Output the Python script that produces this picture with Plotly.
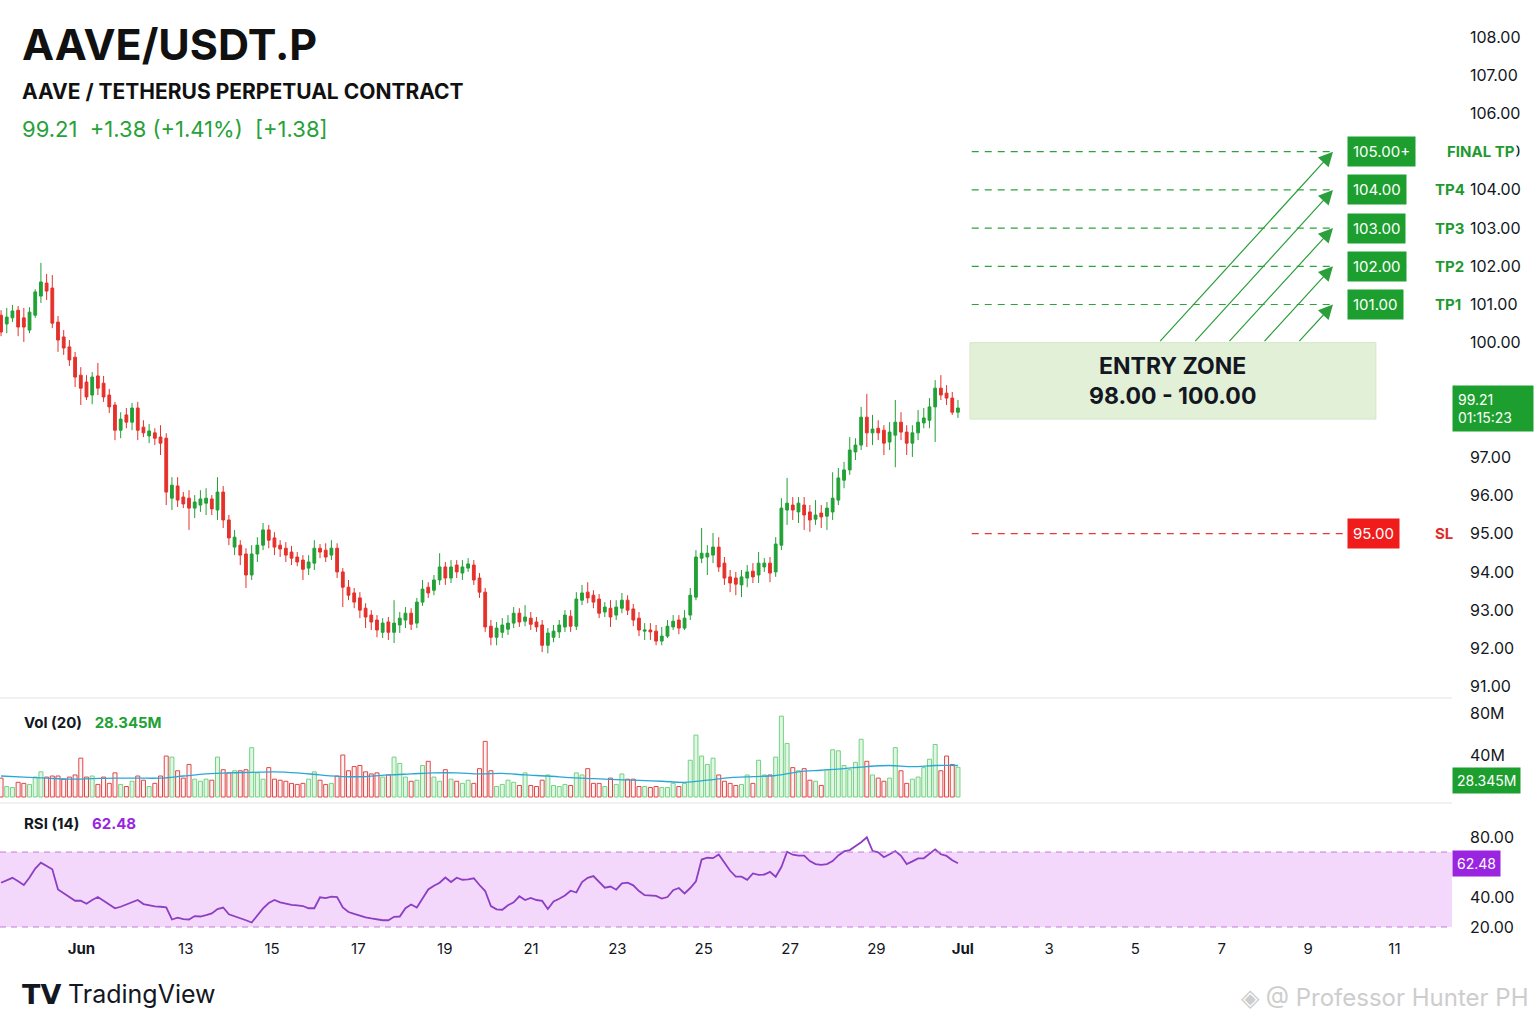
import pandas as pd
import plotly.graph_objects as go
from plotly.subplots import make_subplots

# ---------------- data ----------------
symbol = "AAVE/USDT.P"
contract = "AAVE / TETHERUS PERPETUAL CONTRACT"
last_price = "99.21"
change_text = "+1.38 (+1.41%)  [+1.38]"
countdown = "01:15:23"

candle_start = "2025-06-08 17:20"
candle_step = "190min"

opens = [
    100.72, 100.49, 100.65, 100.85, 100.65, 100.33, 100.72, 101.22, 101.56, 101.43,
    100.54, 100.15, 99.89, 99.62, 99.15, 98.97, 98.63, 99.13, 98.94, 98.63,
    98.37, 97.71, 98.11, 97.92, 98.29, 97.79, 97.56, 97.64, 97.53, 97.50,
    95.93, 96.25, 95.96, 95.93, 95.67, 95.75, 95.80, 95.91, 95.62, 96.09,
    95.36, 94.65, 94.70, 94.47, 93.92, 94.47, 94.70, 95.10, 94.89, 94.70,
    94.62, 94.52, 94.39, 94.31, 94.10, 94.23, 94.62, 94.57, 94.44, 94.62,
    94.00, 93.60, 93.45, 93.32, 93.05, 92.87, 92.74, 92.42, 92.69, 92.42,
    92.61, 92.74, 92.92, 92.66, 93.21, 93.60, 93.52, 93.79, 94.13, 93.84,
    94.18, 93.97, 94.10, 94.18, 93.84, 93.47, 92.58, 92.29, 92.42, 92.50,
    92.66, 92.92, 92.71, 92.79, 92.69, 92.61, 92.08, 92.29, 92.43, 92.56,
    92.84, 92.58, 93.26, 93.47, 93.39, 93.29, 92.95, 93.05, 92.87, 93.05,
    93.26, 93.03, 92.79, 92.45, 92.48, 92.45, 92.19, 92.32, 92.56, 92.74,
    92.53, 92.87, 93.34, 94.36, 94.39, 94.44, 94.65, 94.23, 93.87, 93.84,
    93.66, 93.84, 94.02, 93.92, 94.13, 94.23, 94.00, 94.70, 95.62, 95.75,
    95.57, 95.75, 95.57, 95.38, 95.54, 95.46, 95.57, 95.88, 96.40, 96.67,
    97.14, 97.32, 98.05, 97.64, 97.76, 97.71, 97.40, 97.58, 97.92, 97.66,
    97.37, 97.64, 97.90, 97.97, 98.32, 98.81, 98.68, 98.55, 98.18,
]
closes = [
    100.28, 100.67, 100.83, 100.41, 100.41, 100.80, 101.33, 101.59, 101.35, 100.51,
    100.07, 99.86, 99.55, 99.10, 98.81, 98.58, 99.10, 98.81, 98.58, 98.32,
    97.71, 98.00, 97.92, 98.29, 97.71, 97.64, 97.69, 97.50, 97.37, 96.09,
    96.27, 95.88, 95.78, 95.67, 95.83, 95.91, 95.93, 95.65, 96.09, 95.36,
    94.89, 94.91, 94.44, 93.92, 94.47, 94.70, 95.10, 94.83, 94.65, 94.60,
    94.44, 94.36, 94.26, 94.07, 94.26, 94.62, 94.52, 94.39, 94.62, 94.00,
    93.60, 93.39, 93.21, 93.00, 92.82, 92.69, 92.48, 92.66, 92.42, 92.66,
    92.79, 92.92, 92.63, 93.21, 93.55, 93.45, 93.79, 94.13, 93.84, 94.13,
    94.00, 94.13, 94.21, 93.79, 93.47, 92.56, 92.29, 92.53, 92.61, 92.66,
    92.92, 92.69, 92.82, 92.63, 92.56, 92.08, 92.40, 92.45, 92.61, 92.87,
    92.58, 93.29, 93.45, 93.32, 93.21, 92.92, 93.08, 92.82, 93.08, 93.26,
    93.00, 92.74, 92.48, 92.48, 92.43, 92.19, 92.32, 92.58, 92.71, 92.53,
    92.79, 93.39, 94.39, 94.49, 94.49, 94.65, 94.13, 93.84, 93.71, 93.68,
    93.87, 94.00, 93.87, 94.23, 94.23, 93.97, 94.73, 95.67, 95.80, 95.62,
    95.80, 95.49, 95.36, 95.49, 95.44, 95.67, 95.93, 96.46, 96.67, 97.19,
    97.32, 98.05, 97.64, 97.74, 97.64, 97.37, 97.66, 97.92, 97.66, 97.37,
    97.64, 97.92, 98.03, 98.32, 98.81, 98.63, 98.55, 98.18, 98.29,
]
highs = [
    100.85, 100.91, 100.99, 100.96, 100.91, 100.93, 101.40, 102.09, 101.80, 101.77,
    100.70, 100.33, 100.07, 99.76, 99.36, 99.15, 99.23, 99.47, 99.13, 98.79,
    98.45, 98.18, 98.29, 98.42, 98.45, 97.97, 97.87, 97.76, 97.84, 97.63,
    96.48, 96.48, 96.09, 96.14, 96.01, 96.14, 96.19, 96.01, 96.48, 96.25,
    95.49, 95.10, 94.83, 94.62, 94.70, 94.91, 95.28, 95.23, 95.04, 94.83,
    94.78, 94.68, 94.52, 94.44, 94.44, 94.83, 94.73, 94.75, 94.83, 94.75,
    94.10, 93.79, 93.58, 93.47, 93.18, 93.00, 92.87, 92.79, 92.82, 93.26,
    92.95, 93.08, 93.05, 93.32, 93.79, 93.73, 93.92, 94.49, 94.26, 94.31,
    94.31, 94.31, 94.36, 94.31, 93.97, 93.58, 92.74, 92.69, 92.79, 92.87,
    93.08, 93.05, 93.13, 92.95, 92.82, 92.74, 92.53, 92.61, 92.74, 93.00,
    93.00, 93.47, 93.66, 93.73, 93.52, 93.42, 93.21, 93.26, 93.26, 93.45,
    93.39, 93.16, 92.95, 92.66, 92.66, 92.61, 92.56, 92.74, 92.87, 92.87,
    93.00, 93.58, 94.57, 95.15, 94.70, 95.02, 94.91, 94.39, 94.05, 94.00,
    94.05, 94.18, 94.23, 94.52, 94.36, 94.39, 94.91, 95.93, 96.46, 95.96,
    95.96, 95.96, 95.75, 95.88, 95.75, 95.83, 96.61, 96.72, 96.88, 97.53,
    97.50, 98.32, 98.66, 98.11, 97.97, 97.84, 97.92, 98.50, 98.18, 97.84,
    97.84, 98.24, 98.29, 98.55, 99.02, 99.15, 98.89, 98.71, 98.50,
]
lows = [
    100.17, 100.25, 100.54, 100.17, 100.02, 100.25, 100.65, 101.04, 101.12, 100.38,
    99.76, 99.68, 99.39, 98.84, 98.37, 98.50, 98.39, 98.63, 98.45, 98.16,
    97.45, 97.50, 97.76, 97.71, 97.45, 97.53, 97.37, 97.32, 97.06, 95.75,
    95.62, 95.70, 95.67, 95.10, 95.41, 95.57, 95.49, 95.49, 95.36, 95.15,
    94.70, 94.44, 94.18, 93.58, 93.79, 94.26, 94.57, 94.62, 94.44, 94.39,
    94.26, 94.18, 94.15, 93.79, 93.92, 94.05, 94.36, 94.26, 94.31, 93.84,
    93.08, 93.26, 93.05, 92.79, 92.53, 92.48, 92.29, 92.27, 92.22, 92.14,
    92.40, 92.53, 92.48, 92.53, 93.11, 93.32, 93.39, 93.66, 93.66, 93.71,
    93.84, 93.79, 94.00, 93.66, 93.32, 92.43, 92.08, 92.08, 92.27, 92.35,
    92.53, 92.56, 92.58, 92.48, 92.43, 91.90, 91.87, 92.16, 92.27, 92.43,
    92.43, 92.48, 93.13, 93.18, 93.05, 92.79, 92.82, 92.56, 92.74, 92.92,
    92.87, 92.58, 92.32, 92.22, 92.22, 92.08, 92.08, 92.27, 92.48, 92.37,
    92.48, 92.74, 93.26, 94.23, 93.92, 94.23, 94.00, 93.66, 93.47, 93.39,
    93.34, 93.60, 93.71, 93.71, 94.00, 93.73, 93.87, 94.57, 95.23, 95.36,
    95.28, 95.10, 95.05, 95.23, 95.15, 95.10, 95.36, 95.75, 96.19, 96.54,
    96.93, 97.19, 97.27, 97.32, 97.45, 97.06, 97.19, 96.74, 97.45, 97.06,
    97.01, 97.45, 97.76, 97.76, 97.40, 98.50, 98.37, 98.11, 98.03,
]

# volume in millions
volume_m = [
    18, 10, 9, 14, 13, 12, 19, 24, 19, 20,
    20, 17, 19, 21, 37, 19, 20, 12, 19, 13,
    23, 12, 10, 15, 20, 16, 10, 13, 20, 39,
    38, 25, 18, 31, 17, 15, 17, 16, 38, 26,
    23, 25, 25, 26, 47, 23, 17, 28, 17, 16,
    15, 13, 12, 13, 17, 24, 16, 12, 13, 20,
    40, 25, 29, 30, 24, 22, 23, 19, 21, 38,
    32, 19, 15, 16, 30, 34, 19, 15, 26, 17,
    15, 13, 16, 13, 27, 53, 25, 10, 12, 16,
    14, 11, 23, 11, 10, 16, 21, 11, 10, 12,
    11, 23, 21, 27, 13, 13, 10, 18, 12, 22,
    17, 17, 10, 10, 9, 10, 9, 9, 13, 10,
    13, 35, 59, 39, 31, 37, 21, 15, 13, 11,
    12, 21, 13, 35, 21, 21, 38, 77, 51, 28,
    25, 27, 16, 15, 11, 26, 45, 44, 30, 26,
    33, 55, 34, 21, 18, 15, 18, 47, 25, 13,
    17, 19, 28, 36, 50, 25, 39, 31, 28.345,
]
# 20-period volume average, read every 4th candle
volume_ma_m = [
    20, 19, 18, 17, 17.5, 18, 18, 18, 20, 22, 23, 23.5, 24, 23, 21,
    19.5, 19.5, 21, 22, 23, 23, 22, 22.5, 21, 20, 18.5, 17.5, 16.5, 15.8,
    15, 14, 16, 18.5, 19.5, 20.5, 24, 25.5, 27, 29, 30, 29, 30, 30,
]
rsi = [
    49.5, 51, 52.8, 50.5, 48, 53, 59, 62.9, 60.5, 58.5,
    45, 42.5, 40.2, 37.5, 37.5, 35.5, 38, 40, 37.5, 35,
    32.5, 33.5, 35, 36, 38, 35.3, 34.5, 33.8, 33.5, 33.1,
    25, 26.2, 25.3, 25, 27.3, 27, 28, 29.1, 32, 33,
    28.5, 27.2, 26.2, 24.5, 23, 28, 32.4, 36, 38, 36.4,
    35.5, 34.8, 34.4, 34, 32.5, 32.5, 39.8, 39.3, 40.3, 40,
    33, 30, 28.7, 27.5, 26.5, 25.7, 25, 24.5, 24.5, 26.8,
    27, 32.5, 35, 33, 39, 45, 47.5, 49.5, 53, 50,
    52.9, 51.5, 51.8, 52.5, 48, 44, 34, 31.8, 31.5, 34.5,
    36.5, 40.5, 38, 39.4, 38, 37.4, 32, 37, 38.8, 41,
    44.2, 43, 50, 52.8, 54, 50, 46.2, 47, 44.9, 49.1,
    49.6, 47.8, 44, 41.2, 40.8, 40.7, 39, 40, 44.5, 46,
    42.4, 46, 50.5, 65, 66.2, 65.9, 68.3, 63, 57.5, 53.6,
    53.6, 51.5, 55.7, 54.8, 55, 56.8, 53.5, 60, 70.2, 68.2,
    67.6, 67.6, 64, 62, 61.4, 62, 64, 67.7, 70.4, 71.3,
    73.7, 76.5, 79.8, 70.8, 69.8, 66.5, 68.5, 70.7, 67.5, 62,
    63.8, 65.8, 65.8, 68.8, 71.8, 68.5, 67.4, 64.5, 62.48,
]

# trade plan drawn on the chart
tp_levels = [101, 102, 103, 104, 105]
tp_prices = ["101.00", "102.00", "103.00", "104.00", "105.00+"]
tp_names = ["TP1", "TP2", "TP3", "TP4", "FINAL TP"]
sl_level = 95
sl_price = "95.00"
entry_low, entry_high = 98, 100
entry_text = "98.00 - 100.00"

# axis ticks
price_ticks = [91, 92, 93, 94, 95, 96, 97, 100, 101, 102, 103, 104, 105, 106, 107, 108]
vol_ticks = [40, 80]
vol_tick_text = ["40M", "80M"]
rsi_ticks = [20, 40, 80]
date_ticks = ["2025-06-10 14:00", "2025-06-13", "2025-06-15", "2025-06-17", "2025-06-19",
              "2025-06-21", "2025-06-23", "2025-06-25", "2025-06-27", "2025-06-29",
              "2025-07-01", "2025-07-03", "2025-07-05", "2025-07-07", "2025-07-09",
              "2025-07-11"]
date_tick_text = ["<b>Jun</b>", "13", "15", "17", "19", "21", "23", "25", "27", "29",
                  "<b>Jul</b>", "3", "5", "7", "9", "11"]

# ---------------- figure ----------------
UP = "#22a136"
DOWN = "#e5312b"
TAG_GREEN = "#1c9f2e"
PURPLE = "#8c3fc4"
TEXT = "#131722"
FONT = "Inter, Roboto, Liberation Sans, sans-serif"

W_PLOT, H_PLOT = 1452, 930


def px(x):
    return x / W_PLOT


def py(y):
    return 1 - y / H_PLOT


times = pd.date_range(candle_start, periods=len(closes), freq=candle_step)
ma_times = times[::4]

fig = make_subplots(rows=3, cols=1, shared_xaxes=True, vertical_spacing=0,
                    row_heights=[698, 105, 127])

fig.add_trace(go.Candlestick(
    x=times, open=opens, high=highs, low=lows, close=closes,
    increasing=dict(line=dict(color=UP, width=1), fillcolor=UP),
    decreasing=dict(line=dict(color=DOWN, width=1), fillcolor=DOWN),
    whiskerwidth=0, hoverinfo="skip"), row=1, col=1)

# hollow volume bars, coloured by candle direction
up = [c >= o for o, c in zip(opens, closes)]
fig.add_trace(go.Bar(
    x=times, y=volume_m,
    marker=dict(color=["rgba(170,232,178,0.35)" if u else "rgba(255,225,225,0.35)" for u in up],
                line=dict(color=["#76d184" if u else "#dd4646" for u in up], width=1)),
    hoverinfo="skip"), row=2, col=1)
fig.add_trace(go.Scatter(x=ma_times, y=volume_ma_m, mode="lines",
                         line=dict(color="#2aa7d6", width=1.3, shape="spline"),
                         hoverinfo="skip"), row=2, col=1)

fig.add_trace(go.Scatter(x=times, y=rsi, mode="lines",
                         line=dict(color=PURPLE, width=1.8), hoverinfo="skip"),
              row=3, col=1)

# RSI band
fig.add_shape(type="rect", xref="x3 domain", yref="y3", x0=0, x1=1, y0=20, y1=70,
              fillcolor="#f3d8fb", line=dict(width=0), layer="below")
for lvl in (20, 70):
    fig.add_shape(type="line", xref="x3 domain", yref="y3", x0=0, x1=1, y0=lvl, y1=lvl,
                  line=dict(color="#c47ad8", width=1, dash="6px,5px"))

# panel separators
for y in (698, 803):
    fig.add_shape(type="line", xref="paper", yref="paper", x0=0, x1=1, y0=py(y), y1=py(y),
                  line=dict(color="#e4e4e4", width=1))

# ---- trade plan drawing ----
zone_start = pd.Timestamp("2025-07-01 04:00")
zone_end = pd.Timestamp("2025-07-10 13:40")
line_start = pd.Timestamp("2025-07-01 05:00")
line_end = pd.Timestamp("2025-07-09 15:00")
sl_line_end = pd.Timestamp("2025-07-09 21:00")
box_left = pd.Timestamp("2025-07-09 21:40")
name_left = pd.Timestamp("2025-07-11 21:20")
arrow_tails = ["2025-07-08 18:20", "2025-07-07 23:00", "2025-07-07 03:30",
               "2025-07-06 08:30", "2025-07-05 13:00"]
arrow_head = pd.Timestamp("2025-07-09 13:50")

fig.add_shape(type="rect", xref="x", yref="y", x0=zone_start, x1=zone_end,
              y0=entry_low, y1=entry_high, fillcolor="#e3f0d8",
              line=dict(color="#d3e6c6", width=1), layer="below")
fig.add_annotation(xref="x", yref="y", x=zone_start + (zone_end - zone_start) / 2,
                   y=(entry_low + entry_high) / 2, yanchor="middle",
                   text="<b>ENTRY ZONE</b><br><b>" + entry_text + "</b>",
                   showarrow=False, font=dict(size=23, color=TEXT, family=FONT))

for i, (lvl, price, name) in enumerate(zip(tp_levels, tp_prices, tp_names)):
    fig.add_shape(type="line", xref="x", yref="y", x0=line_start, x1=line_end,
                  y0=lvl, y1=lvl, line=dict(color="#2ea23f", width=1.2, dash="7px,6px"))
    fig.add_annotation(xref="x", yref="y", x=arrow_head, y=lvl,
                       ax=pd.Timestamp(arrow_tails[i]), ay=entry_high,
                       axref="x", ayref="y", text="", showarrow=True,
                       arrowhead=2, arrowsize=2.4, arrowwidth=1.2, arrowcolor="#2b9f3b")
    fig.add_annotation(xref="x", yref="y", x=box_left, y=lvl, xanchor="left", yanchor="middle",
                       text=price, showarrow=False, bgcolor=TAG_GREEN, borderpad=5,
                       font=dict(size=15, color="white", family=FONT))
    final = name == "FINAL TP"
    fig.add_annotation(xref="x", yref="y",
                       x=name_left + pd.Timedelta(hours=7) if final else name_left,
                       y=lvl, xanchor="left", yanchor="middle", text="<b>" + name + "</b>",
                       showarrow=False, bgcolor="white" if final else None,
                       font=dict(size=15, color="#1f9a30", family=FONT))

fig.add_shape(type="line", xref="x", yref="y", x0=line_start, x1=sl_line_end,
              y0=sl_level, y1=sl_level, line=dict(color="#e53935", width=1.2, dash="7px,6px"))
fig.add_annotation(xref="x", yref="y", x=box_left, y=sl_level, xanchor="left", yanchor="middle",
                   text=sl_price, showarrow=False, bgcolor="#f01b1b", borderpad=5,
                   font=dict(size=15, color="white", family=FONT))
fig.add_annotation(xref="x", yref="y", x=name_left, y=sl_level, xanchor="left", yanchor="middle",
                   text="<b>SL</b>", showarrow=False,
                   font=dict(size=15, color="#e02b2b", family=FONT))

# ---- axis value tags ----
fig.add_annotation(xref="paper", yref="y", x=1, y=closes[-1], xanchor="left", yanchor="middle",
                   text=last_price + "<br>" + countdown, align="left", showarrow=False,
                   width=70, bgcolor=TAG_GREEN, borderpad=5,
                   font=dict(size=14, color="white", family=FONT))
fig.add_annotation(xref="paper", yref="y2", x=1, y=volume_m[-1], xanchor="left", yanchor="top",
                   text="28.345M", showarrow=False, bgcolor=TAG_GREEN, borderpad=4,
                   font=dict(size=14, color="white", family=FONT))
fig.add_annotation(xref="paper", yref="y3", x=1, y=rsi[-1], xanchor="left", yanchor="middle",
                   text="%.2f" % rsi[-1], showarrow=False, bgcolor="#9a25e0", borderpad=4,
                   font=dict(size=14, color="white", family=FONT))

# ---- header, pane titles, footer ----
fig.add_annotation(xref="paper", yref="paper", x=px(20), y=py(44), xanchor="left", yanchor="middle",
                   text="<b>" + symbol + "</b>", showarrow=False,
                   font=dict(size=43, color="#111111", family=FONT))
fig.add_annotation(xref="paper", yref="paper", x=px(20), y=py(91), xanchor="left", yanchor="middle",
                   text="<b>" + contract + "</b>", showarrow=False,
                   font=dict(size=21, color="#111111", family=FONT))
fig.add_annotation(xref="paper", yref="paper", x=px(20), y=py(129), xanchor="left", yanchor="middle",
                   text=last_price + "  " + change_text, showarrow=False,
                   font=dict(size=22, color="#27a13a", family=FONT))
fig.add_annotation(xref="paper", yref="paper", x=px(22), y=py(722), xanchor="left", yanchor="middle",
                   text="<b>Vol (20)</b>   <b><span style='color:#22a136'>28.345M</span></b>",
                   showarrow=False, font=dict(size=15, color=TEXT, family=FONT))
fig.add_annotation(xref="paper", yref="paper", x=px(22), y=py(823), xanchor="left", yanchor="middle",
                   text="<b>RSI (14)</b>   <b><span style='color:#9a25e0'>%.2f</span></b>" % rsi[-1],
                   showarrow=False, font=dict(size=15, color=TEXT, family=FONT))
fig.add_annotation(xref="paper", yref="paper", x=px(20), y=py(994), xanchor="left", yanchor="middle",
                   text="<b>TV</b>", showarrow=False,
                   font=dict(size=27, color="#131722", family="DejaVu Sans"))
fig.add_annotation(xref="paper", yref="paper", x=px(66), y=py(994), xanchor="left", yanchor="middle",
                   text="TradingView", showarrow=False,
                   font=dict(size=25, color="#131722", family=FONT))
fig.add_annotation(xref="paper", yref="paper", x=px(1530), y=py(998), xanchor="right",
                   yanchor="middle", text="◈ @ Professor Hunter PH", showarrow=False,
                   font=dict(size=24, color="#cdcdcd", family=FONT))

fig.update_xaxes(range=["2025-06-08 16:45", "2025-07-12 08:00"], showgrid=False,
                 zeroline=False, rangeslider_visible=False, showline=False, ticks="")
fig.update_xaxes(tickvals=date_ticks, ticktext=date_tick_text, ticklabelstandoff=8,
                 tickfont=dict(size=15, color=TEXT, family=FONT), row=3, col=1)
fig.update_yaxes(side="right", showgrid=False, zeroline=False, ticks="",
                 ticklabelstandoff=17, tickfont=dict(size=16, color=TEXT, family=FONT))
fig.update_yaxes(range=[90.70, 108.97], tickvals=price_ticks, tickformat=".2f", row=1, col=1)
fig.update_yaxes(range=[-5.7, 94.3], tickvals=vol_ticks, ticktext=vol_tick_text, row=2, col=1)
fig.update_yaxes(range=[18, 102.7], tickvals=rsi_ticks, tickformat=".2f", row=3, col=1)

fig.update_layout(width=1536, height=1024, margin=dict(l=0, r=84, t=0, b=94),
                  paper_bgcolor="white", plot_bgcolor="white", showlegend=False,
                  bargap=0.3, font=dict(family=FONT, color=TEXT))

# the page's default body margin would push the 1536x1024 figure off the window
fig.write_html("out.html", config={"displayModeBar": False},
               post_script="document.body.style.margin = '0';")
